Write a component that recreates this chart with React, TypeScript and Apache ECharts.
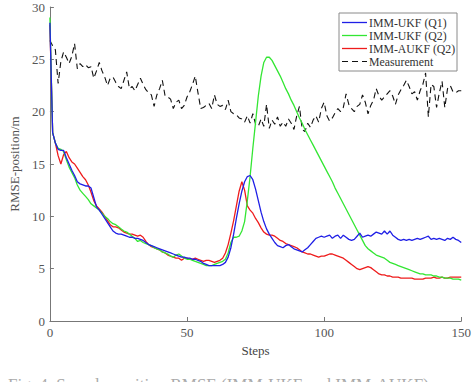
import React, { useEffect, useRef } from "react";
import * as echarts from "echarts";

const steps: number[] = Array.from({ length: 151 }, (_, i) => i);

const xTicks = [0, 50, 100, 150];
const yTicks = [0, 5, 10, 15, 20, 25, 30];

const seriesNames = ["IMM-UKF (Q1)", "IMM-UKF (Q2)", "IMM-AUKF (Q2)", "Measurement"];

const immUkfQ1: number[] = [
  28.5, 18.0, 17.0, 16.4, 16.3, 16.3, 15.6, 15.0, 14.4, 13.9,
  13.3, 13.1, 13.0, 12.9, 12.9, 12.7, 11.8, 10.9, 10.6, 10.2,
  9.8, 9.4, 9.0, 8.6, 8.4, 8.3, 8.3, 8.2, 8.1, 8.0,
  8.0, 7.9, 7.9, 7.8, 7.7, 7.5, 7.3, 7.2, 7.1, 7.0,
  6.9, 6.8, 6.7, 6.6, 6.5, 6.4, 6.3, 6.2, 6.1, 6.1,
  6.0, 6.0, 5.9, 5.9, 5.8, 5.7, 5.5, 5.4, 5.3, 5.3,
  5.3, 5.3, 5.3, 5.4, 5.6, 6.1, 7.0, 8.3, 9.8, 11.2,
  12.4, 13.3, 13.8, 13.9, 13.5, 12.6, 11.5, 10.4, 9.5, 8.8,
  8.3, 7.9, 7.5, 7.2, 7.1, 7.0, 7.2, 7.3, 7.1, 6.9,
  6.8, 6.7, 6.6, 6.8, 7.0, 7.3, 7.6, 7.9, 8.0, 8.1,
  8.0, 8.1, 8.2, 7.9, 8.1, 8.2, 7.9, 8.2, 8.0, 7.8,
  7.7, 7.8, 8.1, 8.4, 8.0, 8.1, 8.2, 8.1, 8.3, 8.5,
  8.4, 8.3, 8.6, 8.3, 8.6, 8.2, 8.0, 7.8, 7.7, 7.8,
  7.7, 7.8, 7.7, 7.8, 7.9, 7.8, 7.9, 8.0, 8.1, 7.8,
  7.9, 7.8, 7.9, 7.8, 7.7, 7.9, 7.8, 8.0, 7.8, 7.7,
  7.5,
];

const immUkfQ2: number[] = [
  29.0, 18.0, 17.0, 16.5, 16.4, 16.2, 15.4, 14.7, 14.2, 13.7,
  13.0, 12.5, 12.2, 11.9, 11.6, 11.2, 11.0, 10.8, 10.6, 10.3,
  10.0, 9.8, 9.5, 9.3, 9.2, 9.0, 8.8, 8.6, 8.5, 8.3,
  8.1, 7.9, 7.6, 7.7, 7.5, 7.4, 7.3, 7.2, 7.0, 6.9,
  6.8, 6.6, 6.5, 6.4, 6.2, 6.1, 6.3, 6.4, 6.2, 6.0,
  5.9, 5.9, 5.8, 5.7, 5.6, 5.5, 5.4, 5.3, 5.3, 5.3,
  5.4, 5.5, 5.6, 5.7, 5.9, 6.5, 7.5, 8.0, 8.0, 8.1,
  8.6, 9.5, 11.5, 13.8, 16.5, 19.0, 21.5, 23.4, 24.7, 25.2,
  25.2, 24.9, 24.4, 23.9, 23.4, 22.8, 22.2, 21.7, 21.1, 20.6,
  20.0, 19.4, 18.9, 18.3, 17.8, 17.3, 16.8, 16.3, 15.8, 15.3,
  14.8, 14.3, 13.8, 13.3, 12.7, 12.2, 11.7, 11.2, 10.7, 10.2,
  9.7, 9.2, 8.7, 8.2, 7.7, 7.2, 6.9, 6.7, 6.5, 6.3,
  6.2, 6.1, 6.0, 5.8, 5.6, 5.5, 5.4, 5.3, 5.2, 5.1,
  5.0, 4.9, 4.8, 4.7, 4.6, 4.5, 4.5, 4.4, 4.4, 4.4,
  4.3, 4.3, 4.2, 4.2, 4.1, 4.1, 4.1, 4.0, 4.0, 4.0,
  3.9,
];

const immAukfQ2: number[] = [
  28.3, 18.0, 17.0, 15.8, 15.0, 15.9, 16.2, 15.6, 15.2, 15.0,
  14.6, 14.2, 13.8, 13.5, 13.0, 12.3, 11.5, 11.0, 10.7, 10.4,
  10.0, 9.6, 9.2, 9.0, 9.0, 8.9, 8.7, 8.5, 8.4, 8.3,
  8.3, 8.2, 8.1, 8.2, 8.0, 7.6, 7.3, 7.1, 7.0, 6.9,
  6.8, 6.6, 6.5, 6.3, 6.2, 6.1, 6.0, 6.0, 5.8, 6.0,
  6.0, 5.9, 5.9, 6.0, 5.9, 5.8, 5.7, 5.8, 5.8, 5.7,
  5.6, 5.7, 5.8, 6.0, 6.5, 7.3, 8.4, 9.6, 11.0, 12.4,
  13.3, 12.5, 11.0, 10.6, 10.3, 9.8, 9.4, 8.9, 8.5, 8.3,
  8.2, 8.2, 8.1, 7.9, 7.7, 7.6, 7.4, 7.3, 7.2, 7.1,
  7.0, 6.8, 6.6, 6.5, 6.4, 6.4, 6.3, 6.2, 6.1, 6.2,
  6.2, 6.3, 6.4, 6.4, 6.3, 6.2, 6.1, 6.0, 5.8, 5.6,
  5.4, 5.2, 5.0, 4.9, 5.0, 5.1, 5.2, 5.1, 4.9, 4.7,
  4.5, 4.4, 4.4, 4.3, 4.3, 4.2, 4.2, 4.2, 4.1, 4.1,
  4.1, 4.1, 4.1, 4.0, 4.0, 4.0, 4.0, 4.1, 4.1, 4.1,
  4.2, 4.1, 4.1, 4.2, 4.1, 4.1, 4.2, 4.2, 4.2, 4.2,
  4.2,
];

const measurement: number[] = [
  26.8, 26.3, 25.9, 22.7, 24.8, 25.7, 25.2, 24.6, 25.3, 26.5,
  24.1, 24.6, 24.3, 24.5, 24.2, 24.3, 23.2, 23.9, 24.7, 23.9,
  23.3, 22.5, 23.2, 23.3, 22.8, 22.4, 22.2, 23.0, 23.8, 22.2,
  22.4, 22.0, 22.6, 23.2, 22.6, 22.1, 21.8, 21.6, 20.5, 21.6,
  22.2, 23.0, 21.5, 21.4, 21.2, 20.3, 20.9, 21.1, 20.3, 20.6,
  21.4, 21.9, 22.6, 23.4, 21.8, 20.3, 20.4, 20.6, 20.8, 20.3,
  21.6, 20.7, 20.5, 20.6, 20.2, 21.1, 20.0, 19.8, 19.7, 19.4,
  19.3, 19.0, 19.6, 18.9, 19.8, 18.8, 18.6, 19.3, 18.6, 20.7,
  18.4, 19.2, 18.8, 19.5, 18.6, 19.0, 18.6, 19.3, 18.9, 18.3,
  19.6, 20.5, 18.3, 18.1, 18.9, 18.5, 19.2, 19.6, 19.0, 20.3,
  20.9, 19.6, 19.1, 19.4, 19.9, 20.3, 20.0, 20.4, 21.7, 20.7,
  20.3, 20.0, 20.5, 20.7, 21.6, 20.9, 19.8, 20.6, 21.1, 22.2,
  21.5, 21.1, 21.4, 21.7, 22.0, 21.5, 20.7, 21.6, 22.1, 22.5,
  23.0, 22.4, 21.7, 21.9, 21.1, 22.0, 22.6, 23.7, 19.5, 22.6,
  22.4, 20.4, 21.8, 22.9, 20.4, 22.2, 22.5, 21.9, 21.8, 22.0,
  22.0,
];

const colors = ["#1f1fe6", "#33e633", "#ee1c1c", "#111111"];
const FONT = "'Liberation Serif', 'Times New Roman', serif";

export default function App() {
  const ref = useRef<HTMLDivElement>(null);

  useEffect(() => {
    if (!ref.current) return;
    const chart = echarts.init(ref.current, undefined, { renderer: "svg" });
    const pair = (arr: number[]) => steps.map((s, i) => [s, arr[i]]);
    const datasets = [immUkfQ1, immUkfQ2, immAukfQ2, measurement];

    // legend box drawn as graphic elements
    const legendX = 339;
    const legendY = 13;
    const rowH = 13;
    const legendItems: any[] = [
      {
        type: "rect",
        shape: { x: legendX, y: legendY, width: 118, height: 58 },
        style: { fill: "#ffffff", stroke: "#8a8a8a", lineWidth: 1 },
        z: 100,
      },
    ];
    seriesNames.forEach((name, i) => {
      const cy = legendY + 9.5 + i * rowH;
      legendItems.push({
        type: "line",
        shape: { x1: legendX + 3, y1: cy, x2: legendX + 28, y2: cy },
        style: {
          stroke: colors[i],
          lineWidth: i === 3 ? 1.1 : 1.3,
          lineDash: i === 3 ? [6, 4] : null,
        },
        z: 101,
      });
      legendItems.push({
        type: "text",
        x: legendX + 30,
        y: cy,
        style: {
          text: name,
          fontFamily: FONT,
          fontSize: 11.8,
          fill: "#333",
          verticalAlign: "middle",
          align: "left",
        },
        z: 101,
      });
    });

    chart.setOption({
      animation: false,
      backgroundColor: "#ffffff",
      textStyle: { fontFamily: FONT },
      grid: { left: 35, right: 10, top: 7, bottom: 61, containLabel: false },
      legend: { show: false, data: seriesNames },
      xAxis: {
        type: "value",
        min: 0,
        max: 150,
        interval: 50,
        name: "Steps",
        nameLocation: "middle",
        nameGap: 18,
        nameTextStyle: { fontFamily: FONT, fontSize: 13, color: "#444" },
        axisLine: { show: true, lineStyle: { color: "#777", width: 1 } },
        axisTick: { show: true, inside: true, length: 4, lineStyle: { color: "#777" } },
        axisLabel: {
          fontFamily: FONT,
          fontSize: 13,
          color: "#555",
          margin: 5,
          formatter: (v: number) => (xTicks.includes(v) ? String(v) : ""),
        },
        splitLine: { show: false },
      },
      yAxis: {
        type: "value",
        min: 0,
        max: 30,
        interval: 5,
        name: "RMSE-position/m",
        nameLocation: "middle",
        nameGap: 25,
        nameTextStyle: { fontFamily: FONT, fontSize: 13, color: "#555" },
        axisLine: { show: true, lineStyle: { color: "#777", width: 1 } },
        axisTick: { show: true, inside: true, length: 4, lineStyle: { color: "#777" } },
        axisLabel: {
          fontFamily: FONT,
          fontSize: 13,
          color: "#555",
          margin: 5,
          formatter: (v: number) => (yTicks.includes(v) ? String(v) : ""),
        },
        splitLine: { show: false },
      },
      graphic: [
        ...legendItems,
        {
          type: "text",
          left: 8,
          top: 376,
          style: {
            text: "Fig. 4. Sample position RMSE (IMM-UKF and IMM-AUKF)",
            fontFamily: FONT,
            fontSize: 17,
            fill: "#aaaaaa",
          },
        },
      ],
      series: datasets.map((arr, i) => ({
        name: seriesNames[i],
        type: "line",
        data: pair(arr),
        symbol: "none",
        showSymbol: false,
        z: i === 3 ? 1 : 4 - i + 1,
        lineStyle: {
          color: colors[i],
          width: i === 3 ? 1.1 : 1.3,
          type: i === 3 ? [6, 4] : "solid",
        },
        itemStyle: { color: colors[i] },
      })),
    });

    return () => chart.dispose();
  }, []);

  return (
    <div
      ref={ref}
      style={{ position: "fixed", left: 0, top: 0, width: 474, height: 382 }}
    />
  );
}
